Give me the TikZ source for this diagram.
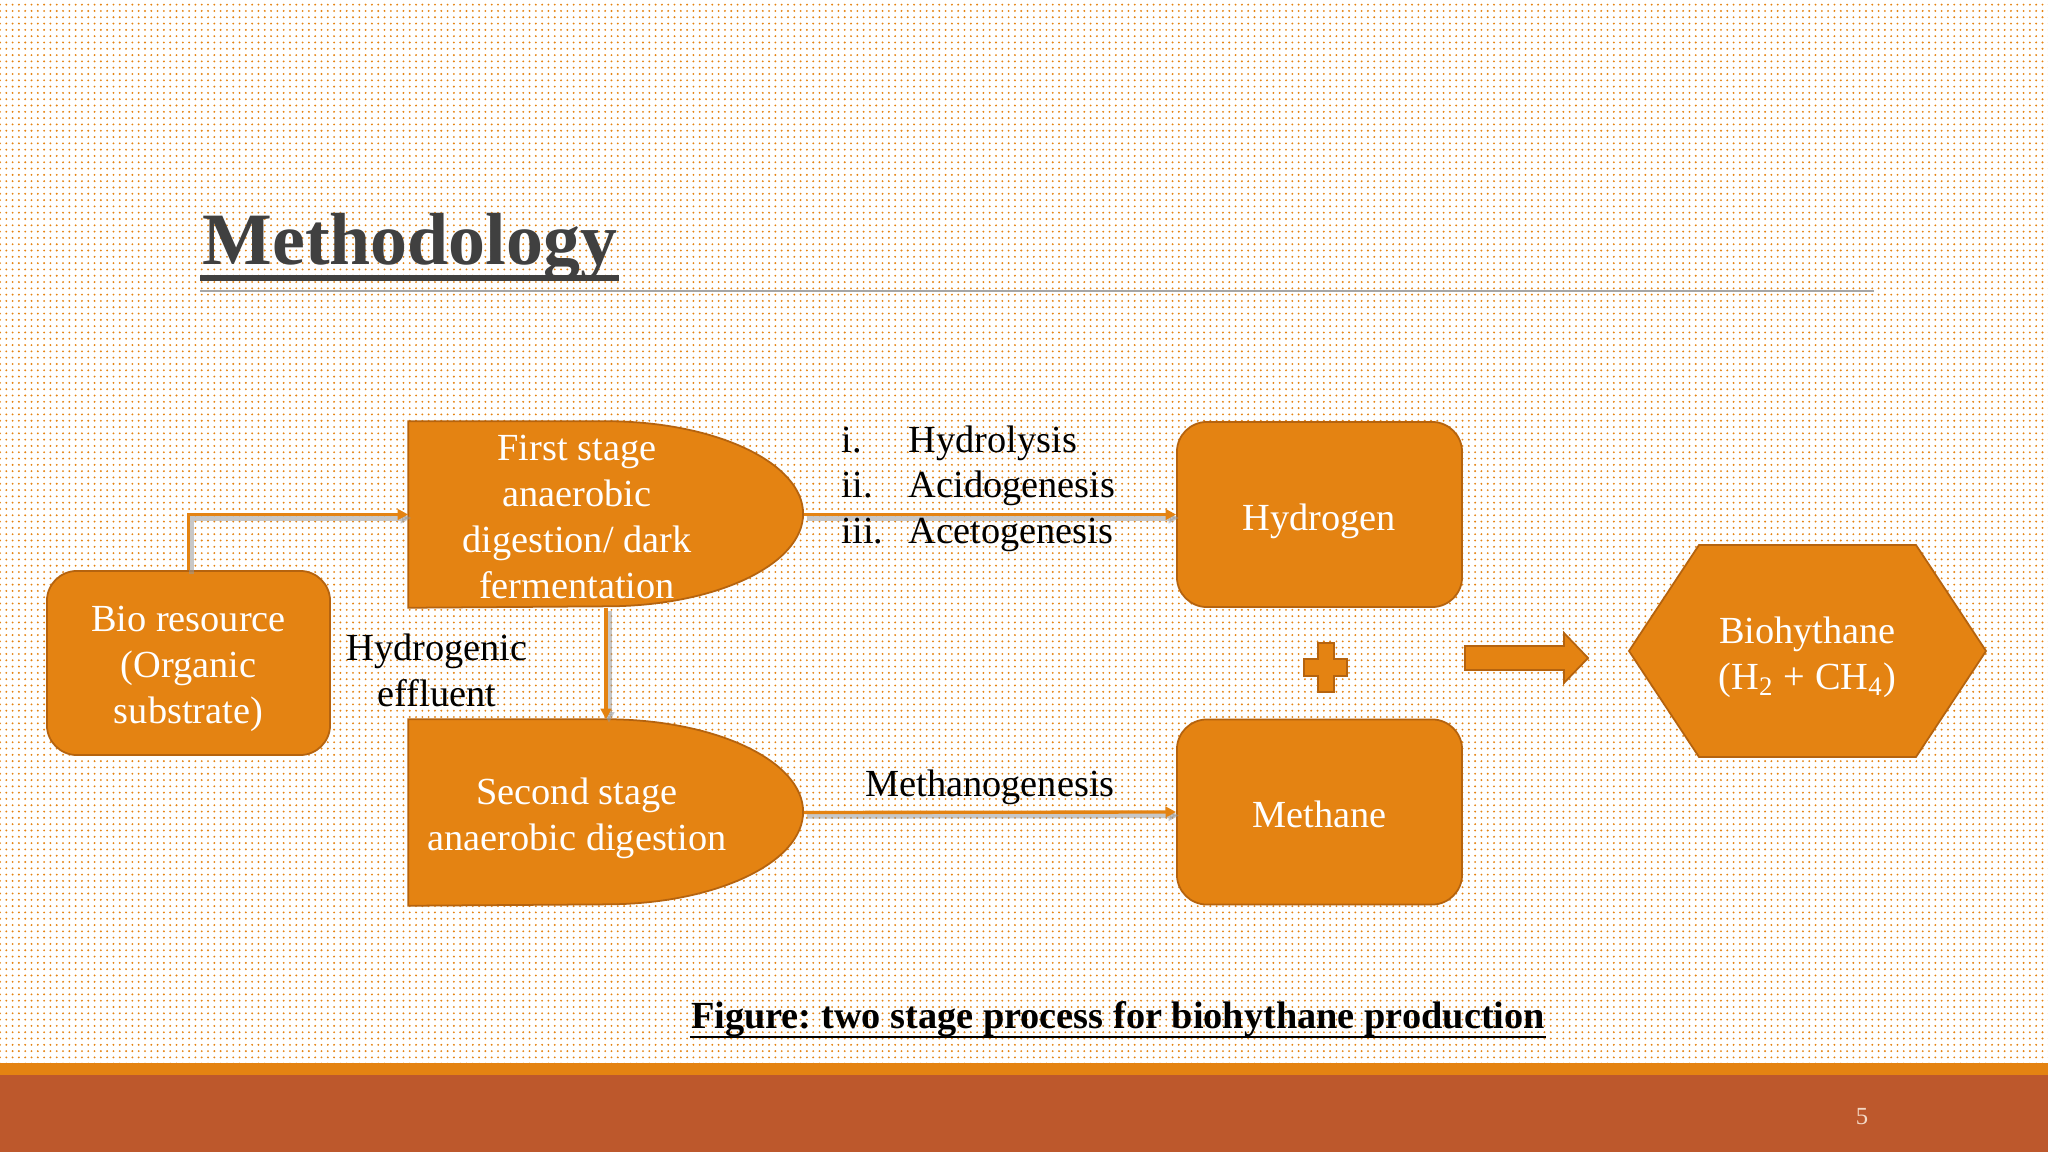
\documentclass[tikz,border=0pt]{standalone}
\usepackage{fontspec}
\setmainfont{Liberation Serif}
\frenchspacing
\usetikzlibrary{arrows.meta,patterns.meta}
\definecolor{accent}{HTML}{E48312}
\definecolor{rust}{HTML}{BD582C}
\definecolor{edgec}{HTML}{B5630E}
\definecolor{titlec}{HTML}{404040}
\definecolor{rulec}{HTML}{A6A6A6}
\definecolor{numc}{HTML}{F4D9C6}
\begin{document}
\begin{tikzpicture}[x=0.01cm,y=-0.01cm,
  txt/.style={font=\fontsize{10.9}{13.1}\selectfont},
  boxtext/.style={txt, text=white, align=center, inner sep=0pt},
  plaintext/.style={txt, text=black, inner sep=0pt},
  shapefill/.style={draw=edgec, line width=0.5pt, fill=accent},
  rbox/.style={shapefill, rounded corners=0.3cm, minimum width=2.85cm, minimum height=1.85cm, inner sep=0pt},
  ghost/.style={inner sep=0pt, minimum width=3.94cm, minimum height=1.85cm},
  conn/.style={draw=accent, line width=0.95pt, -{Triangle[length=3pt,width=3pt]},
    preaction={draw=black!40, opacity=0.55, line width=1.5pt, transform canvas={shift={(0.03cm,-0.035cm)}}}}
]
% background
\fill[white] (0,0) rectangle (2048,1152);
\fill[pattern={Dots[distance=0.063cm, radius=0.0105cm]}, pattern color=accent] (0,0) rectangle (2048,1063);
\fill[accent] (0,1063) rectangle (2048,1075);
\fill[rust] (0,1075) rectangle (2048,1152);
\useasboundingbox (0,0) rectangle (2048,1152);

% title
\node[anchor=base west, inner sep=0pt, font=\fontsize{21}{25}\selectfont\bfseries, text=titlec] (title) at (202,265) {Methodology};
\fill[titlec] (200,275) rectangle (619,281);
\draw[rulec, line width=0.5pt] (200,291) -- (1874,291);

% nodes
\node[rbox, minimum width=2.83cm, minimum height=1.84cm] (bio) at (188.5,663) {};
\node[boxtext] (biot) at (188.5,669) {Bio resource\\(Organic\\substrate)};

\node[ghost] (fs) at (606,514.5) {};
\path[shapefill] (fs.south west) -- (fs.north west) -- (fs.north)
  arc[start angle=90, end angle=-90, x radius=1.97cm, y radius=0.925cm] -- cycle;
\node[boxtext] (fst) at (577,517) {First stage\\anaerobic\\digestion/ dark\\fermentation};

\node[ghost] (ss) at (606,812.5) {};
\path[shapefill] (ss.south west) -- (ss.north west) -- (ss.north)
  arc[start angle=90, end angle=-90, x radius=1.97cm, y radius=0.925cm] -- cycle;
\node[boxtext] (sst) at (577,818) {Second stage\\anaerobic digestion};

\node[rbox] (hyd) at (1319.5,514.5) {};
\node[boxtext] (hydt) at (1319.5,521) {Hydrogen};
\node[rbox] (met) at (1319.5,812) {};
\node[boxtext] (mett) at (1319.5,814) {Methane};

% plus sign
\path[shapefill] (1318,643) -- (1334,643) -- (1334,659) -- (1347,659) -- (1347,676) -- (1334,676)
  -- (1334,692) -- (1318,692) -- (1318,676) -- (1304,676) -- (1304,659) -- (1318,659) -- cycle;

% block arrow
\path[shapefill] (1465,646) -- (1564,646) -- (1564,633) -- (1588,658) -- (1564,683) -- (1564,670) -- (1465,670) -- cycle;

% hexagon
\path[shapefill] (1629,651) -- (1699,545) -- (1916,545) -- (1986,651) -- (1916,757) -- (1699,757) -- cycle;
\node[boxtext] (hex) at (1807.5,657) {Biohythane\\(H\textsubscript{2} + CH\textsubscript{4})};

% connectors
\draw[conn] (bio.north) |- (fs.west);
\draw[conn] (fs.east) -- (hyd.west);
\draw[conn] (fs.south) -- (ss.north);
\draw[conn] (ss.east) -- (met.west);

% labels
\node[plaintext, align=center] (eff) at (437,670) {Hydrogenic\\effluent};
\node[plaintext, anchor=base west] (n1) at (841,453) {i.};
\node[plaintext, anchor=base west] (l1) at (908,453) {Hydrolysis};
\node[plaintext, anchor=base west] (n2) at (841,498) {ii.};
\node[plaintext, anchor=base west] (l2) at (908,498) {Acidogenesis};
\node[plaintext, anchor=base west] (n3) at (841,544) {iii.};
\node[plaintext, anchor=base west] (l3) at (908,544) {Acetogenesis};
\node[plaintext, anchor=base] (meth) at (990,796) {Methanogenesis};

% caption
\node[anchor=base, inner sep=0pt, font=\fontsize{10.9}{13}\selectfont\bfseries] (cap) at (1118,1028) {Figure: two stage process for biohythane production};
\draw[line width=0.8pt] ([yshift=-0.09cm]cap.base west) -- ([yshift=-0.09cm]cap.base east);

% page number
\node[inner sep=0pt, font=\fontsize{7}{8}\selectfont, text=numc] (pg) at (1862,1117) {5};
\end{tikzpicture}
\end{document}
